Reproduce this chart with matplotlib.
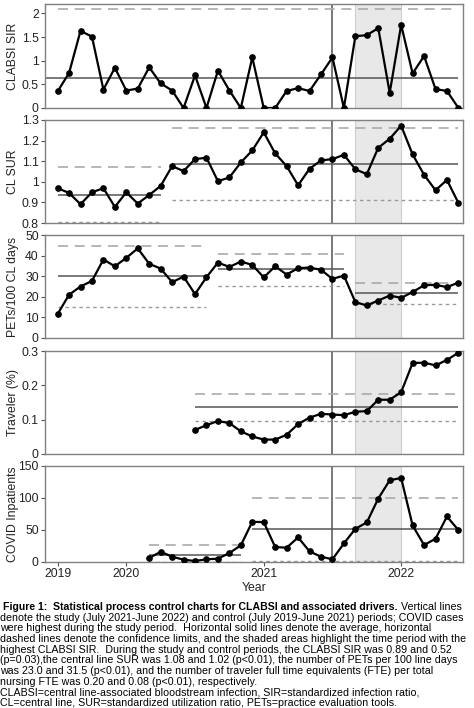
import matplotlib
matplotlib.use('Agg')
import matplotlib.pyplot as plt
import numpy as np

plt.rcParams['font.family'] = ['Liberation Sans', 'DejaVu Sans']

# monthly points, July 2019 .. June 2022
months = np.arange(36)
year_ticks = [0, 6, 18, 30]
year_labels = ['2019', '2020', '2021', '2022']

sir = [0.35, 0.74, 1.63, 1.51, 0.39, 0.85, 0.37, 0.41, 0.86, 0.52, 0.37, 0.0,
       0.69, 0.0, 0.79, 0.37, 0.0, 1.07, 0.0, 0.0, 0.36, 0.42, 0.36, 0.71,
       1.07, 0.0, 1.52, 1.54, 1.69, 0.32, 1.76, 0.73, 1.10, 0.40, 0.36, 0.0]
sur = [0.969, 0.946, 0.891, 0.949, 0.969, 0.878, 0.949, 0.894, 0.936, 0.980,
       1.076, 1.052, 1.110, 1.117, 1.003, 1.021, 1.094, 1.152, 1.240, 1.138,
       1.076, 0.983, 1.063, 1.104, 1.110, 1.131, 1.061, 1.037, 1.165, 1.209,
       1.272, 1.133, 1.034, 0.959, 1.009, 0.897]
pets = [11.6, 21.0, 25.0, 27.7, 38.1, 34.8, 38.9, 43.5, 36.0, 33.7, 27.1, 29.8,
        21.3, 29.5, 36.6, 34.5, 37.1, 35.5, 29.4, 34.8, 30.8, 33.9, 34.2, 33.1,
        28.7, 30.3, 17.4, 15.8, 18.2, 20.6, 19.5, 22.3, 25.6, 25.8, 24.7, 26.9]
traveler_months = np.arange(12, 36)
traveler = [0.070, 0.084, 0.096, 0.090, 0.066, 0.051, 0.042, 0.042, 0.056, 0.087,
            0.106, 0.117, 0.115, 0.113, 0.123, 0.125, 0.158, 0.158, 0.180, 0.265,
            0.266, 0.258, 0.274, 0.295]
covid_months = np.arange(8, 36)
covid = [6.2, 16.0, 8.3, 3.6, 1.6, 4.2, 5.2, 14.0, 26.0, 62.8, 62.3, 23.4, 22.3,
         38.4, 16.6, 8.3, 4.2, 29.0, 51.9, 61.8, 99.1, 127.7, 131.3, 57.1, 26.5,
         36.3, 71.1, 49.8]

# control limit segments: (first month, last month, centre, upper, lower)
sir_limits = [(-1.1, 35, 0.64, 2.09, None)]
sur_limits = [(0, 9, 0.937, 1.07, 0.805), (10, 35, 1.087, 1.259, 0.913)]
pets_limits = [(0, 13, 30.0, 44.9, 14.9), (14, 25, 33.4, 41.0, 25.4),
               (26, 35, 21.8, 26.8, 16.5)]
traveler_limits = [(12, 35, 0.1365, 0.175, 0.097)]
covid_limits = [(8, 16, 10.4, 26.0, 0.3), (17, 35, 51.9, 100.2, 1.5)]

study_start = 24
shade_span = (26, 30)

panels = [
    ('CLABSI SIR', months, sir, sir_limits, (0, 2.2), [0, 0.5, 1, 1.5, 2],
     ['0', '0.5', '1', '1.5', '2']),
    ('CL SUR', months, sur, sur_limits, (0.8, 1.3), [0.8, 0.9, 1.0, 1.1, 1.2, 1.3],
     ['0.8', '0.9', '1', '1.1', '1.2', '1.3']),
    ('PETs/100 CL days', months, pets, pets_limits, (0, 50), [0, 10, 20, 30, 40, 50],
     ['0', '10', '20', '30', '40', '50']),
    ('Traveler (%)', traveler_months, traveler, traveler_limits, (0, 0.3),
     [0, 0.1, 0.2, 0.3], ['0', '0.1', '0.2', '0.3']),
    ('COVID Inpatients', covid_months, covid, covid_limits, (0, 150),
     [0, 50, 100, 150], ['0', '50', '100', '150']),
]

W, H = 474, 708
fig = plt.figure(figsize=(W / 100, H / 100), dpi=100)

# panel top/bottom in pixels
boxes = [(4, 108), (120, 223), (235, 338), (351, 454), (466, 562)]
left, right = 45, 463
fsz = 8.8

for i, (label, xs, ys, limits, ylim, yt, ytl) in enumerate(panels):
    top, bot = boxes[i]
    ax = fig.add_axes([left / W, 1 - bot / H, (right - left) / W, (bot - top) / H])
    ax.axvspan(shade_span[0], shade_span[1], facecolor='#e8e8e8',
               edgecolor='#cfcfcf', lw=0.8, zorder=0)
    ax.axvline(study_start, color='#555555', lw=1.1, zorder=1)
    for a, b, c, u, l in limits:
        ax.hlines(c, a, b, color='#555555', lw=1.1, zorder=2)
        ax.hlines(u, max(a, 0), b, color='#aaaaaa', lw=1.2, linestyles=(0, (6, 4)), zorder=2)
        if l is not None:
            ax.hlines(l, a, b, color='#999999', lw=1.0, linestyles=(0, (2.5, 2.5)), zorder=2)
    ax.plot(xs, ys, color='black', lw=1.6, marker='o', ms=3.8, zorder=3)
    ax.set_xlim(-1.1, 35.4)
    ax.set_ylim(*ylim)
    ax.set_yticks(yt)
    ax.set_yticklabels(ytl)
    ax.set_ylabel(label, fontsize=fsz, color='#222222')
    ax.yaxis.set_label_coords(-0.062, 0.5)
    for s in ax.spines.values():
        s.set_color('#808080')
        s.set_linewidth(1.0)
    ax.tick_params(axis='y', labelsize=fsz, length=3, color='#555555',
                   labelcolor='#222222', pad=1.5)
    if i < len(panels) - 1:
        ax.set_xticks([])
    else:
        ax.set_xticks(year_ticks)
        ax.set_xticklabels(year_labels)
        ax.tick_params(axis='x', labelsize=fsz, length=3, color='#555555',
                       labelcolor='#222222', pad=1.5)
        ax.set_xlabel('Year', fontsize=fsz, color='#222222', labelpad=1)

# caption
fs_b, fs = 7.6, 7.7
y0, dy = 607, 10.67
t1 = fig.text(3 / W, 1 - y0 / H,
              'Figure 1:  Statistical process control charts for CLABSI and associated drivers.',
              fontsize=fs_b, fontweight='bold', va='center', ha='left')
fig.canvas.draw()
bb = t1.get_window_extent()
fig.text(bb.x1 / W, 1 - y0 / H, ' Vertical lines', fontsize=fs, va='center', ha='left')
caption = [
    'denote the study (July 2021-June 2022) and control (July 2019-June 2021) periods; COVID cases',
    'were highest during the study period.  Horizontal solid lines denote the average, horizontal',
    'dashed lines denote the confidence limits, and the shaded areas highlight the time period with the',
    'highest CLABSI SIR.  During the study and control periods, the CLABSI SIR was 0.89 and 0.52',
    '(p=0.03),the central line SUR was 1.08 and 1.02 (p<0.01), the number of PETs per 100 line days',
    'was 23.0 and 31.5 (p<0.01), and the number of traveler full time equivalents (FTE) per total',
    'nursing FTE was 0.20 and 0.08 (p<0.01), respectively.',
    'CLABSI=central line-associated bloodstream infection, SIR=standardized infection ratio,',
    'CL=central line, SUR=standardized utilization ratio, PETs=practice evaluation tools.',
]
for k, line in enumerate(caption):
    fig.text(0.5 / W, 1 - (y0 + (k + 1) * dy) / H, line, fontsize=fs,
             va='center', ha='left')

plt.savefig('out.png', dpi=100)
